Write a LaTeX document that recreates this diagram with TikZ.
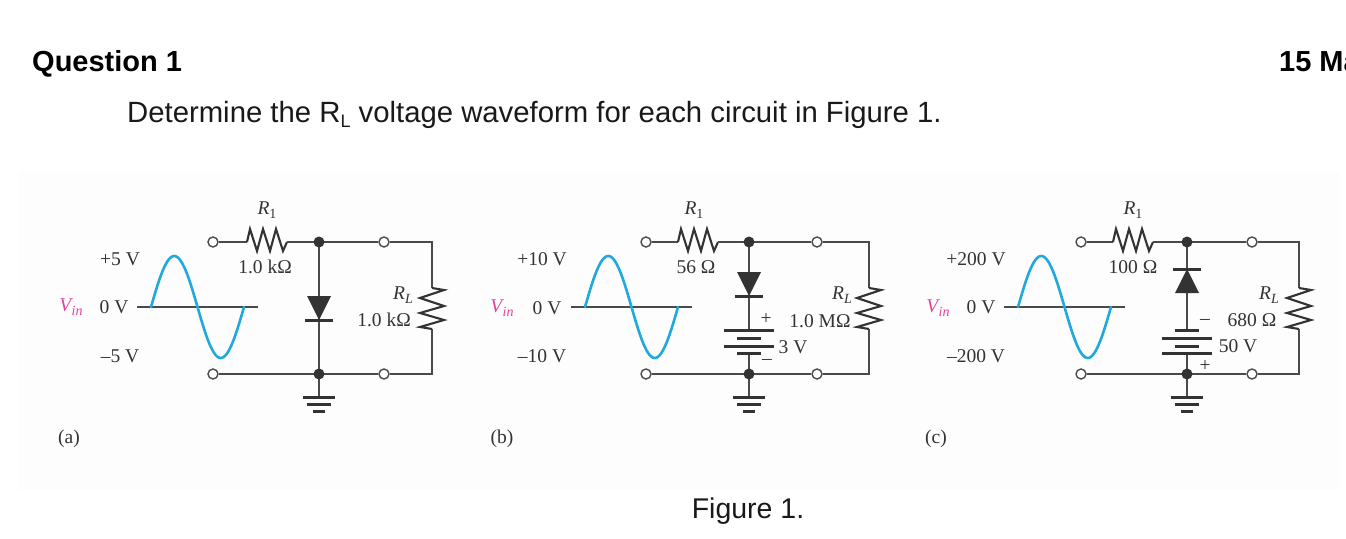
\documentclass[tikz,border=0pt]{standalone}
\usepackage{fontspec}
\setmainfont{Liberation Sans}
\newfontfamily\serf{Liberation Serif}
\definecolor{wirec}{HTML}{4A4A4A}
\definecolor{inkc}{HTML}{333333}
\definecolor{sinec}{HTML}{1FA9DC}
\definecolor{vinc}{HTML}{E4429F}
\definecolor{panelc}{HTML}{FDFDFD}
\newcommand{\subs}[1]{\raisebox{-0.22em}{\fontsize{14}{14}\selectfont #1}}
\newcommand{\RoneL}{\textit{R}\subs{1}}
\newcommand{\RloadL}{\textit{R}\subs{\textit{L}}}
\newcommand{\VinL}{\textit{V}\kern-1.5pt\subs{\textit{in}}}
% #1 prefix, #2 input terminal x, #3 resistor start x, #4 junction x, #5 output terminal x, #6 right wire x, #7 sine start x, #8 axis left x
\newcommand{\basecircuit}[8]{
  \node[term] (#1ti) at (#2,242) {};
  \node[term] (#1bi) at (#2,374) {};
  \coordinate (#1rs) at (#3,242);
  \coordinate (#1re) at ([xshift=40pt]#1rs);
  \coordinate (#1ctop) at (#6,242);
  \coordinate (#1cbot) at (#6,374);
  \coordinate (#1ls) at (#6,288);
  \coordinate (#1le) at (#6,329);
  \coordinate (#1gnd) at (#4,397);
  \coordinate (#1gb) at (#4,404);
  \coordinate (#1gc) at (#4,411);
  \node[term] (#1to) at (#5,242) {};
  \node[term] (#1bo) at (#5,374) {};
  \draw[wire] (#1ti) -- (#1rs);
  \draw[zig] (#1rs) -- ++(3,-13) -- ++(7,22) -- ++(6,-22) -- ++(7,22) -- ++(6,-22) -- ++(7,22) -- (#1re);
  \draw[wire] (#1re) -- (#4,242) -- (#1to) -- (#1ctop) -- (#1ls);
  \draw[zig] (#1ls) -- ++(12,2) -- ++(-24,8) -- ++(24,8) -- ++(-24,7) -- ++(24,7) -- ++(-24,7) -- (#1le);
  \draw[wire] (#1le) -- (#1cbot) -- (#1bo) -- (#1bi);
  \draw[wire] (#4,374) -- (#1gnd);
  \draw[plate] ([xshift=-16pt]#1gnd) -- ([xshift=16pt]#1gnd);
  \draw[plate] ([xshift=-12pt]#1gb) -- ([xshift=12pt]#1gb);
  \draw[plate] ([xshift=-6pt]#1gc) -- ([xshift=6pt]#1gc);
  \draw[axisl] (#8,307) -- ++(121,0);
  \draw[sinew] plot[domain=0:360,samples=60,smooth] ({#7+\x/360*93},{307-51*sin(\x)});
}
\tikzset{
  x=1pt,y=-1pt,
  wire/.style={draw=wirec,line width=1.6pt,line join=miter},
  zig/.style={draw=inkc,line width=2.1pt,line join=miter},
  plate/.style={draw=inkc,line width=3pt},
  axisl/.style={draw=wirec,line width=1.4pt},
  sinew/.style={draw=sinec,line width=2.6pt,line cap=round},
  term/.style={circle,draw=wirec,fill=white,line width=1.4pt,minimum size=10pt,inner sep=0pt},
  dot/.style={circle,fill=inkc,minimum size=11pt,inner sep=0pt},
  lab/.style={text=inkc,font=\serf\fontsize{19.5}{20}\selectfont,inner sep=0pt},
  vinlab/.style={text=vinc,font=\serf\fontsize{19.5}{20}\selectfont,inner sep=0pt},
  head/.style={text=black,font=\bfseries\fontsize{29}{32}\selectfont,inner sep=0pt,anchor=base west},
  body/.style={text=black!90,font=\fontsize{29.3}{32}\selectfont,inner sep=0pt,anchor=base west},
}
\begin{document}
\begin{tikzpicture}
\useasboundingbox (0,0) rectangle (1346,538);
\clip (0,0) rectangle (1346,538);
\fill[white] (0,0) rectangle (1346,538);
\fill[panelc] (18,172) rectangle (1340,490);
\node[head] (q) at (32,71) {Question 1};
\node[head] (m) at (1279,71) {15 Ma};
\node[body] (d) at (127,122) {Determine the R\raisebox{-0.18em}{\fontsize{18}{18}\selectfont L} voltage waveform for each circuit in Figure 1.};
\node[body,anchor=base,font=\fontsize{28.5}{32}\selectfont] (f) at (748,518) {Figure 1.};

% (a)
\basecircuit{a}{213}{247}{319}{384}{432}{151}{137}
\coordinate (ad) at (319,320);
\draw[wire] (319,242) -- (319,374);
\fill[inkc] (307,296) -- (331,296) -- (ad) -- cycle;
\draw[plate] (305,320) -- (333,320);
\node[dot] (ajt) at (319,242) {};
\node[dot] (ajb) at (319,374) {};
\node[lab] (ar) at (267,210) {\RoneL};
\node[lab] (arv) at (265,267) {1.0 kΩ};
\node[lab] (ap) at (120,259) {+5 V};
\node[lab] (az) at (114,307) {0 V};
\node[lab] (an) at (120,356) {–5 V};
\node[vinlab] (av) at (71,307) {\VinL};
\node[lab] (al) at (69,439) {(a)};
\node[lab] (arl) at (403,295) {\RloadL};
\node[lab] (arlv) at (384,320) {1.0 kΩ};

% (b)
\basecircuit{b}{646}{678}{749}{817}{869}{585}{571}
\coordinate (bdb) at (749,296);
\coordinate (bbt) at (749,330);
\coordinate (bbb) at (749,353);
\draw[wire] (749,242) -- (bdb) -- (bbt);
\draw[wire] (bbb) -- (749,374);
\fill[inkc] (737,272) -- (761,272) -- (bdb) -- cycle;
\draw[plate] (735,296) -- (763,296);
\draw[plate] (724,330) -- (774,330);
\draw[plate] (737,338) -- (761,338);
\draw[plate] (724,346) -- (774,346);
\draw[plate] (737,353) -- (761,353);
\node[dot] (bjt) at (749,242) {};
\node[dot] (bjb) at (749,374) {};
\node[lab] (br) at (694,210) {\RoneL};
\node[lab] (brv) at (696,267) {56 Ω};
\node[lab] (bp) at (542,259) {+10 V};
\node[lab] (bz) at (547,308) {0 V};
\node[lab] (bn) at (542,356) {–10 V};
\node[vinlab] (bv) at (502,308) {\VinL};
\node[lab] (bl) at (502,439) {(b)};
\node[lab] (brl) at (842,295) {\RloadL};
\node[lab] (brlv) at (820,321) {1.0 MΩ};
\node[lab] (bplus) at (766,319) {+};
\node[lab] (bvolt) at (793,347) {3 V};
\node[lab] (bminus) at (767,362) {–};

% (c)
\basecircuit{c}{1081}{1113}{1187}{1252}{1299}{1018}{1004}
\coordinate (cdt) at (1187,269);
\coordinate (cbt) at (1187,330);
\coordinate (cbb) at (1187,353);
\draw[wire] (1187,242) -- (cdt) -- (cbt);
\draw[wire] (cbb) -- (1187,374);
\fill[inkc] (1175,293) -- (1199,293) -- (cdt) -- cycle;
\draw[plate] (1173,269) -- (1201,269);
\draw[plate] (1175,330) -- (1199,330);
\draw[plate] (1162,338) -- (1212,338);
\draw[plate] (1175,346) -- (1199,346);
\draw[plate] (1162,353) -- (1212,353);
\node[dot] (cjt) at (1187,242) {};
\node[dot] (cjb) at (1187,374) {};
\node[lab] (cr) at (1133,210) {\RoneL};
\node[lab] (crv) at (1133,267) {100 Ω};
\node[lab] (cp) at (976,259) {+200 V};
\node[lab] (cz) at (981,307) {0 V};
\node[lab] (cn) at (976,356) {–200 V};
\node[vinlab] (cv) at (938,308) {\VinL};
\node[lab] (cl) at (936,439) {(c)};
\node[lab] (crl) at (1269,295) {\RloadL};
\node[lab] (crlv) at (1252,320) {680 Ω};
\node[lab] (cminus) at (1205,322) {–};
\node[lab] (cvolt) at (1238,346) {50 V};
\node[lab] (cplus) at (1205,366) {+};
\end{tikzpicture}
\end{document}
